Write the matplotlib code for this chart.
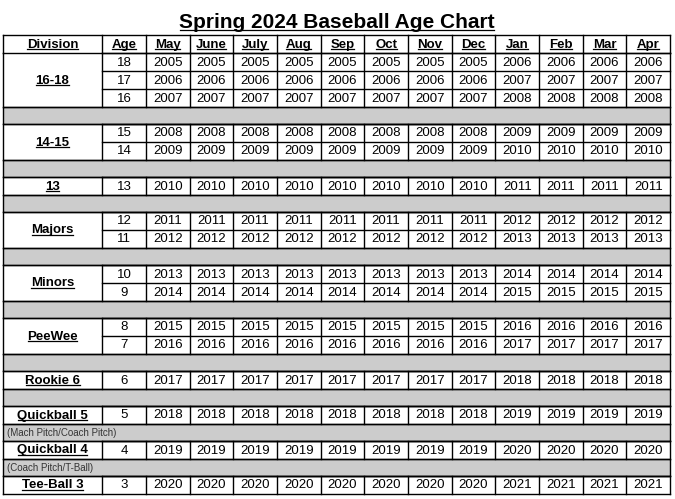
import matplotlib
matplotlib.use("Agg")
import matplotlib.pyplot as plt
from matplotlib.patches import Rectangle

plt.rcParams["font.family"] = ["Liberation Sans", "DejaVu Sans"]

title = "Spring 2024 Baseball Age Chart"
months = ["May", "June", "July", "Aug", "Sep", "Oct", "Nov", "Dec", "Jan", "Feb", "Mar", "Apr"]
divisions = ["16-18", "14-15", "13", "Majors", "Minors", "PeeWee", "Rookie 6",
             "Quickball 5", "Quickball 4", "Tee-Ball 3"]
division_ages = [[18, 17, 16], [15, 14], [13], [12, 11], [10, 9], [8, 7], [6], [5], [4], [3]]
# birth years per age: May-Dec value, Jan-Apr value
years_early = {18: 2005, 17: 2006, 16: 2007, 15: 2008, 14: 2009, 13: 2010, 12: 2011, 11: 2012,
               10: 2013, 9: 2014, 8: 2015, 7: 2016, 6: 2017, 5: 2018, 4: 2019, 3: 2020}
years_late = {18: 2006, 17: 2007, 16: 2008, 15: 2009, 14: 2010, 13: 2011, 12: 2012, 11: 2013,
              10: 2014, 9: 2015, 8: 2016, 7: 2017, 6: 2018, 5: 2019, 4: 2020, 3: 2021}
notes = {"Quickball 5": "(Mach Pitch/Coach Pitch)", "Quickball 4": "(Coach Pitch/T-Ball)"}

fig = plt.figure(figsize=(6.75, 4.99), dpi=100)
ax = fig.add_axes([0, 0, 1, 1])
ax.set_xlim(0, 675)
ax.set_ylim(499, 0)
ax.axis("off")

col_x = [3, 102, 146] + [146 + 43.67 * (i + 1) for i in range(12)]
row_h = 18
gap_h = 17
lw = 1.0
fig.canvas.draw()
renderer = fig.canvas.get_renderer()


def underlined(x, y, s, size):
    t = ax.text(x, y, s, ha="center", va="center", fontsize=size, fontweight="bold")
    bb = t.get_window_extent(renderer).transformed(ax.transData.inverted())
    yb = max(bb.y0, bb.y1) - 1.2
    ax.plot([bb.x0 + 0.5, bb.x1 - 0.5], [yb, yb], color="black", lw=0.9)


underlined(337, 22, title, 15)

# header
y = 35
ax.plot([col_x[0], col_x[-1]], [y, y], color="black", lw=lw)
headers = ["Division", "Age"] + months
for i, h in enumerate(headers):
    underlined((col_x[i] + col_x[i + 1]) / 2, y + row_h / 2 + 0.5, h, 9.5)
for xv in col_x:
    ax.plot([xv, xv], [y, y + row_h], color="black", lw=lw)
y += row_h

for d, name in enumerate(divisions):
    ages = division_ages[d]
    top = y
    for age in ages:
        ax.plot([col_x[1], col_x[-1]], [y, y], color="black", lw=lw)
        cy = y + row_h / 2 + 0.5
        ax.text((col_x[1] + col_x[2]) / 2, cy, str(age), ha="center", va="center", fontsize=9.5)
        for m in range(12):
            val = years_early[age] if m < 8 else years_late[age]
            ax.text((col_x[m + 2] + col_x[m + 3]) / 2, cy, str(val),
                    ha="center", va="center", fontsize=9.5)
        y += row_h
    ax.plot([col_x[0], col_x[-1]], [top, top], color="black", lw=lw)
    for xv in col_x:
        ax.plot([xv, xv], [top, y], color="black", lw=lw)
    underlined((col_x[0] + col_x[1]) / 2, (top + y) / 2 + 0.5, name, 9.5)
    ax.plot([col_x[0], col_x[-1]], [y, y], color="black", lw=lw)
    if d < len(divisions) - 1:
        ax.add_patch(Rectangle((col_x[0], y), col_x[-1] - col_x[0], gap_h,
                               facecolor="#cccccc", edgecolor="black", lw=lw))
        if name in notes:
            ax.text(col_x[0] + 4, y + gap_h / 2 + 0.5, notes[name], ha="left", va="center",
                    fontsize=7, color="#333333")
        y += gap_h

fig.savefig("out.png", dpi=100)
